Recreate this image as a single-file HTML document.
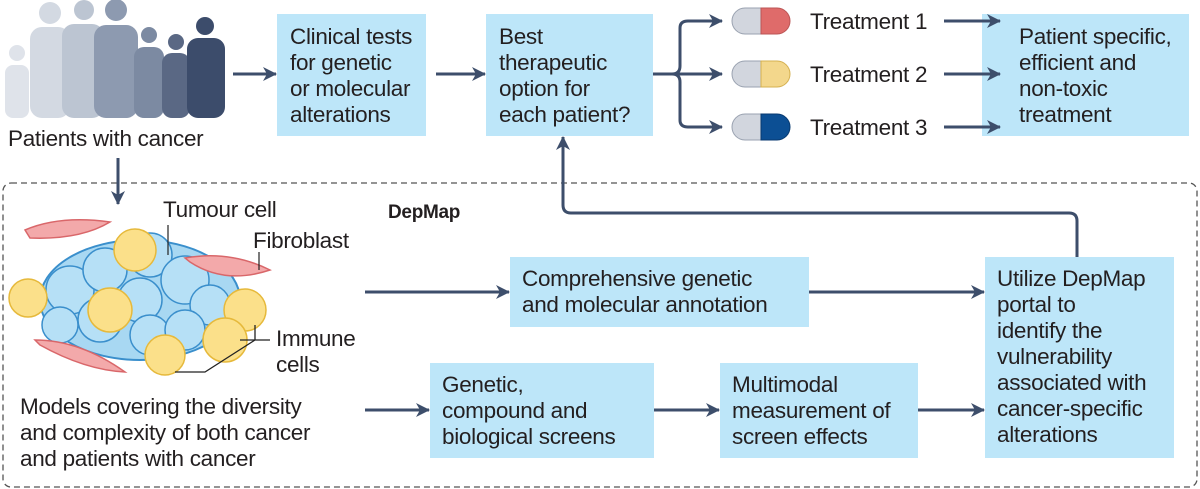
<!DOCTYPE html>
<html><head><meta charset="utf-8"><style>
body{margin:0;background:#fff;}
svg{display:block;font-family:"Liberation Sans",sans-serif;}
text{fill:#231f20;font-size:22.5px;letter-spacing:-0.3px;}
</style></head><body>
<svg width="1200" height="489" viewBox="0 0 1200 489" xmlns="http://www.w3.org/2000/svg">
<defs>
<marker id="a" markerWidth="16" markerHeight="14" refX="13" refY="7" orient="auto" markerUnits="userSpaceOnUse"><path d="M0,0 L14,7 L0,14 L4,7 Z" fill="#3d4e6b"/></marker>
</defs>
<rect x="3" y="183" width="1194" height="304" rx="8" fill="none" stroke="#555" stroke-width="1.3" stroke-dasharray="6,4"/>
<g>
<g fill="#dfe3ea"><circle cx="17" cy="53" r="8"/><rect x="5" y="65" width="24" height="53" rx="8"/></g>
<g fill="#d3d9e2"><circle cx="50" cy="13" r="11"/><rect x="30" y="27" width="40" height="91" rx="12"/></g>
<g fill="#bcc5d2"><circle cx="84" cy="10" r="10"/><rect x="62" y="24" width="42" height="94" rx="12"/></g>
<g fill="#8d9ab0"><circle cx="116" cy="10" r="11"/><rect x="94" y="25" width="44" height="93" rx="12"/></g>
<g fill="#7c8aa2"><circle cx="149" cy="35" r="8"/><rect x="134" y="47" width="30" height="71" rx="10"/></g>
<g fill="#5a6884"><circle cx="176" cy="42" r="8"/><rect x="162" y="53" width="28" height="65" rx="10"/></g>
<g fill="#3c4c6b"><circle cx="205" cy="26" r="9"/><rect x="187" y="38" width="38" height="80" rx="11"/></g>
</g>
<text x="8" y="146">Patients with cancer</text>
<g>
<ellipse cx="140" cy="300" rx="100" ry="60" fill="#a8d8f2" stroke="#3a8fcc" stroke-width="2"/>
<g fill="#b6e0f6" stroke="#3a8fcc" stroke-width="1.5">
<circle cx="70" cy="290" r="24"/><circle cx="105" cy="270" r="22"/><circle cx="150" cy="255" r="22"/><circle cx="185" cy="280" r="24"/><circle cx="210" cy="305" r="20"/><circle cx="140" cy="300" r="22"/><circle cx="100" cy="320" r="22"/><circle cx="150" cy="335" r="20"/><circle cx="185" cy="330" r="20"/><circle cx="60" cy="325" r="18"/>
</g>
<g fill="#f3a9aa" stroke="#d9676a" stroke-width="1.5">
<path d="M25,230 Q60,215 110,222 Q80,240 30,238 Z"/><path d="M185,258 Q230,250 270,270 Q225,285 190,262 Z"/><path d="M35,340 Q80,340 125,372 Q85,370 40,345 Z"/>
</g>
<g fill="#fbe08a" stroke="#e6b93b" stroke-width="1.5">
<circle cx="135" cy="250" r="21"/><circle cx="245" cy="310" r="21"/><circle cx="28" cy="298" r="19"/><circle cx="110" cy="310" r="22"/><circle cx="165" cy="355" r="20"/><circle cx="225" cy="340" r="22"/>
</g>
<path d="M175,372 L205,372 L255,340 M240,340 L255,340 L255,325 M255,340 L270,340" fill="none" stroke="#222" stroke-width="1.3"/>
<line x1="168" y1="225" x2="168" y2="255" stroke="#222" stroke-width="1.2"/>
<line x1="259" y1="252" x2="259" y2="270" stroke="#222" stroke-width="1.2"/>
</g>
<text x="163" y="217">Tumour cell</text>
<text x="253" y="248">Fibroblast</text>
<text x="276" y="346">Immune</text>
<text x="276" y="372">cells</text>
<text x="20" y="414">Models covering the diversity</text>
<text x="20" y="440">and complexity of both cancer</text>
<text x="20" y="466">and patients with cancer</text>
<text x="388" y="218" style="font-weight:bold;font-size:19px">DepMap</text>
<g fill="#bde6f9">
<rect x="277" y="14" width="149" height="122"/>
<rect x="486" y="14" width="167" height="122"/>
<rect x="982" y="14" width="207" height="122"/>
<rect x="510" y="257" width="299" height="70"/>
<rect x="985" y="257" width="189" height="201"/>
<rect x="430" y="363" width="224" height="95"/>
<rect x="720" y="363" width="198" height="95"/>
</g>
<text x="290" y="44">Clinical tests</text><text x="290" y="70">for genetic</text><text x="290" y="96">or molecular</text><text x="290" y="122">alterations</text>
<text x="499" y="44">Best</text><text x="499" y="70">therapeutic</text><text x="499" y="96">option for</text><text x="499" y="122">each patient?</text>
<text x="1019" y="44">Patient specific,</text><text x="1019" y="70">efficient and</text><text x="1019" y="96">non-toxic</text><text x="1019" y="122">treatment</text>
<text x="522" y="286">Comprehensive genetic</text><text x="522" y="312">and molecular annotation</text>
<text x="997" y="286">Utilize DepMap</text><text x="997" y="312">portal to</text><text x="997" y="338">identify the</text><text x="997" y="364">vulnerability</text><text x="997" y="390">associated with</text><text x="997" y="416">cancer-specific</text><text x="997" y="442">alterations</text>
<text x="442" y="392">Genetic,</text><text x="442" y="418">compound and</text><text x="442" y="444">biological screens</text>
<text x="732" y="392">Multimodal</text><text x="732" y="418">measurement of</text><text x="732" y="444">screen effects</text>
<g>
<path d="M745,8 h16 v26 h-16 a13,13 0 0 1 0,-26 Z" fill="#d2d6de" stroke="#9aa2b0"/><path d="M761,8 h16 a13,13 0 0 1 0,26 h-16 Z" fill="#df6b6a" stroke="#b55"/>
<path d="M745,61 h16 v26 h-16 a13,13 0 0 1 0,-26 Z" fill="#d2d6de" stroke="#9aa2b0"/><path d="M761,61 h16 a13,13 0 0 1 0,26 h-16 Z" fill="#f3d78c" stroke="#d4b050"/>
<path d="M745,114 h16 v26 h-16 a13,13 0 0 1 0,-26 Z" fill="#d2d6de" stroke="#9aa2b0"/><path d="M761,114 h16 a13,13 0 0 1 0,26 h-16 Z" fill="#0c4f94" stroke="#083a70"/>
</g>
<text x="810" y="29">Treatment 1</text><text x="810" y="82">Treatment 2</text><text x="810" y="135">Treatment 3</text>
<g fill="none" stroke="#3d4e6b" stroke-width="3" marker-end="url(#a)">
<line x1="233" y1="74" x2="276" y2="74"/>
<line x1="436" y1="74" x2="485" y2="74"/>
<line x1="118" y1="158" x2="118" y2="204"/>
<path d="M653,74 H672 Q680,74 680,66 V28 Q680,21 688,21 H722"/>
<line x1="653" y1="74" x2="722" y2="74"/>
<path d="M672,74 Q680,74 680,82 V120 Q680,127 688,127 H722"/>
<line x1="944" y1="21" x2="1000" y2="21"/>
<line x1="944" y1="74" x2="1000" y2="74"/>
<line x1="944" y1="127" x2="1000" y2="127"/>
<path d="M1077,257 V221 Q1077,213 1069,213 H571 Q563,213 563,205 V137"/>
<line x1="365" y1="292" x2="509" y2="292"/>
<line x1="809" y1="292" x2="984" y2="292"/>
<line x1="365" y1="410" x2="429" y2="410"/>
<line x1="654" y1="410" x2="719" y2="410"/>
<line x1="918" y1="410" x2="984" y2="410"/>
</g>
</svg>
</body></html>
